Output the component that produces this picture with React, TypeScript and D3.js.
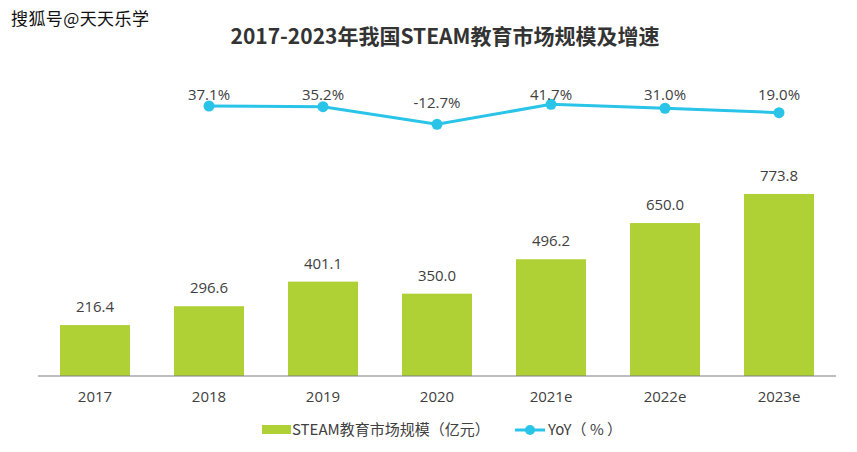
import React from "react";
import * as d3 from "d3";

const categories = ["2017", "2018", "2019", "2020", "2021e", "2022e", "2023e"];
const marketSize = [216.4, 296.6, 401.1, 350.0, 496.2, 650.0, 773.8];
const yoyYears = ["2018", "2019", "2020", "2021e", "2022e", "2023e"];
const yoyValues = [37.1, 35.2, -12.7, 41.7, 31.0, 19.0];

const W = 857;
const H = 452;
const GREEN = "#afd136";
const CYAN = "#29c4e8";
const TEXT = "#404040";
const FONT = "'Noto Sans CJK SC', 'Noto Sans', sans-serif";
const NUM_FONT = "'Open Sans', 'Noto Sans CJK SC', sans-serif";

export default function App() {
  const x = d3.scaleBand<string>().domain(categories).range([38, 836]).paddingInner(0.386).paddingOuter(0.193);
  const yBar = d3.scaleLinear().domain([0, 850]).range([376, 176]);
  const yLine = d3.scaleLinear().domain([-50, 60]).range([138, 97.6]);
  const cx = (c: string) => (x(c) ?? 0) + x.bandwidth() / 2;

  const linePath = d3
    .line<number>()
    .x((_, i) => cx(yoyYears[i]))
    .y((v) => yLine(v))(yoyValues);

  return (
    <svg
      width={W}
      height={H}
      style={{ position: "absolute", left: 0, top: 0, background: "#fff" }}
      fontFamily={FONT}
    >
      <rect width={W} height={H} fill="#fff" />
      {/* watermark */}
      <text
        x={11}
        y={25}
        fontSize={17}
        fill="#111"
        stroke="#fff"
        strokeWidth={2}
        style={{ paintOrder: "stroke" }}
        letterSpacing={0.4}
      >
        搜狐号@天天乐学
      </text>
      {/* title */}
      <text x={445} y={44} textAnchor="middle" fontSize={21} fontWeight={700} fill="#333">
        2017-2023年我国STEAM教育市场规模及增速
      </text>

      {/* bars */}
      {categories.map((c, i) => (
        <g key={c}>
          <rect x={x(c)} y={yBar(marketSize[i])} width={x.bandwidth()} height={yBar(0) - yBar(marketSize[i])} fill={GREEN} />
          <text x={cx(c)} y={yBar(marketSize[i]) - 13} textAnchor="middle" fontSize={15} fill={TEXT} fontFamily={NUM_FONT}>
            {marketSize[i].toFixed(1)}
          </text>
          <text x={cx(c)} y={402} textAnchor="middle" fontSize={15} fill={TEXT} fontFamily={NUM_FONT}>
            {c}
          </text>
        </g>
      ))}
      <line x1={38} x2={836} y1={376} y2={376} stroke="#7f7f7f" strokeWidth={1.2} />

      {/* YoY line */}
      <path d={linePath ?? ""} fill="none" stroke={CYAN} strokeWidth={3} />
      {yoyValues.map((v, i) => (
        <g key={yoyYears[i]}>
          <circle cx={cx(yoyYears[i])} cy={yLine(v)} r={5.5} fill={CYAN} />
          <text x={cx(yoyYears[i])} y={v < 0 ? 107.5 : 99.5} textAnchor="middle" fontSize={15} fill={TEXT} fontFamily={NUM_FONT}>
            {v.toFixed(1)}%
          </text>
        </g>
      ))}

      {/* legend */}
      <rect x={262} y={425} width={29} height={9} fill={GREEN} />
      <text x={292} y={435} fontSize={15} fill={TEXT}>
        STEAM教育市场规模（亿元）
      </text>
      <line x1={515} x2={545} y1={430} y2={430} stroke={CYAN} strokeWidth={3} />
      <circle cx={530} cy={430} r={5} fill={CYAN} />
      <text x={548} y={435} fontSize={15} fill={TEXT}>
        YoY（ % ）
      </text>
    </svg>
  );
}
